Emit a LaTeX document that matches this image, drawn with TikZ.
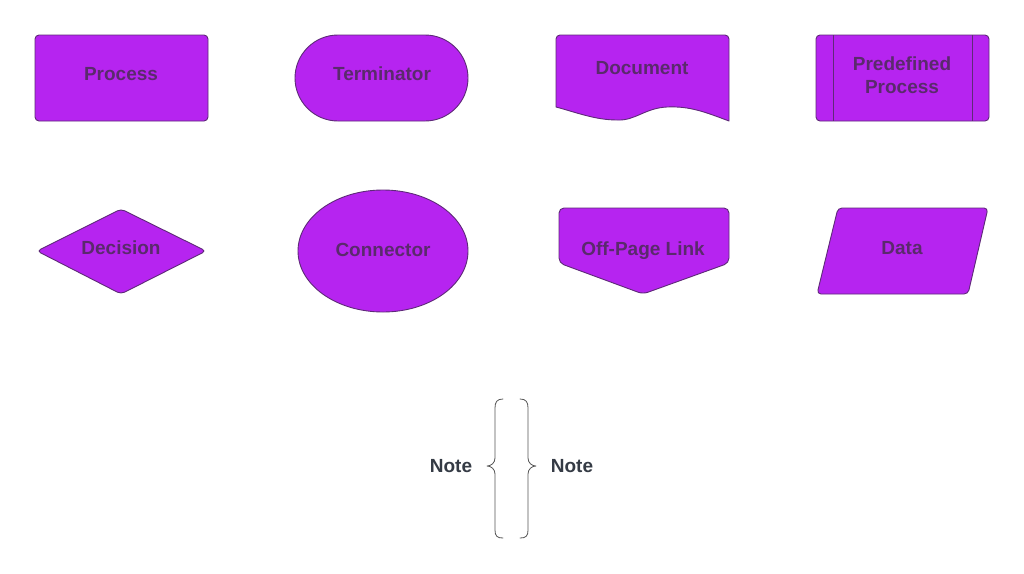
\documentclass[tikz,border=0pt]{standalone}
\usepackage{fontspec}
\setmainfont{Liberation Sans}
\begin{document}
\begin{tikzpicture}[x=1pt,y=-1pt]
\definecolor{shapefill}{HTML}{B624F0}
\definecolor{shapeline}{HTML}{5E2A78}
\definecolor{shapetext}{HTML}{5A2A6C}
\definecolor{notetext}{HTML}{353B45}
\definecolor{bracecol}{HTML}{555555}
\tikzset{
  shp/.style={fill=shapefill, draw=shapeline, line width=0.9pt, line join=round},
  lbl/.style={font=\fontsize{19}{23}\selectfont\bfseries, text=shapetext, align=center, inner sep=0pt},
  notelbl/.style={font=\fontsize{19}{23}\selectfont\bfseries, text=notetext, inner sep=0pt},
  bracepath/.style={draw=bracecol, line width=0.8pt, line cap=round, line join=round}
}
\useasboundingbox (0,0) rectangle (1024,573);
\fill[white] (0,0) rectangle (1024,573);

% Process
\draw[shp, rounded corners=4] (35,35) rectangle (208,121);
\node[lbl] (process) at (121,74) {Process};

% Terminator
\draw[shp, rounded corners=43] (295,35) rectangle (468,121);
\node[lbl] (terminator) at (382,74) {Terminator};

% Document
\draw[shp] (556,107) -- (556,39) [rounded corners=4] -- (556,35) -- (729,35) [sharp corners] -- (729,121)
  .. controls (705,112) and (690,106) .. (667,107)
  .. controls (645,108) and (635,121) .. (617,120)
  .. controls (595,120) and (575,112) .. (556,107) -- cycle;
\node[lbl] (document) at (642,68) {Document};

% Predefined process
\draw[shp, rounded corners=4] (816,35) rectangle (989,121);
\draw[shp, fill=none] (833,35) -- (833,121);
\draw[shp, fill=none] (972,35) -- (972,121);
\node[lbl] (predef) at (902,75) {Predefined\\Process};

% Decision
\draw[shp, rounded corners=4] (121,209) -- (206,251) -- (121,294) -- (37,251) -- cycle;
\node[lbl] (decision) at (121,248) {Decision};

% Connector
\draw[shp] (383,251) ellipse [x radius=85, y radius=61];
\node[lbl] (connector) at (383,250) {Connector};

% Off-page link
\draw[shp, rounded corners=5] (559,208) -- (729,208) -- (729,263) -- (643,294) -- (559,263) -- cycle;
\node[lbl, anchor=base] (offpage) at (643,255) {Off-Page Link};

% Data
\draw[shp, rounded corners=4] (838,208) -- (988,208) -- (968,294) -- (817,294) -- cycle;
\node[lbl] (data) at (902,248) {Data};

% Notes with braces
\coordinate (lbtop) at (503,399);
\coordinate (lbtip) at (487,466);
\coordinate (lbbot) at (503,538);
\draw[bracepath] (lbtop) .. controls (497,399) and (495,402) .. (495,408)
  -- (495,458) .. controls (495,463) and (491,466) .. (lbtip)
  .. controls (491,466) and (495,469) .. (495,474)
  -- (495,530) .. controls (495,536) and (497,538) .. (lbbot);
\coordinate (rbtop) at (520,399);
\coordinate (rbtip) at (536,466);
\coordinate (rbbot) at (520,538);
\draw[bracepath] (rbtop) .. controls (526,399) and (528,402) .. (528,408)
  -- (528,458) .. controls (528,463) and (532,466) .. (rbtip)
  .. controls (532,466) and (528,469) .. (528,474)
  -- (528,530) .. controls (528,536) and (526,538) .. (rbbot);
\node[notelbl] (noteleft) at (451,466) {Note};
\node[notelbl] (noteright) at (572,466) {Note};
\end{tikzpicture}
\end{document}
